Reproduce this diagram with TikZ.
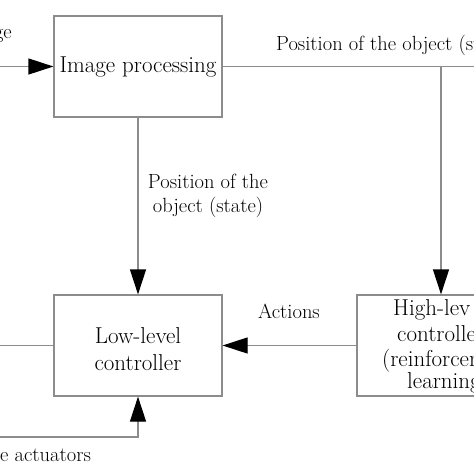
\documentclass[tikz,border=0pt]{standalone}
\usetikzlibrary{arrows.meta}
\definecolor{linegray}{RGB}{140,140,140}
\begin{document}
\begin{tikzpicture}[x=1pt,y=-1pt,
  blk/.style={draw=linegray,line width=1.2pt,minimum width=168pt,minimum height=101pt,inner sep=0pt,align=center,font=\fontsize{23}{27}\selectfont},
  lbl/.style={inner sep=0pt,font=\fontsize{20.5}{24}\selectfont},
  btxt/.style={inner sep=0pt,font=\fontsize{23}{27}\selectfont},
  conn/.style={draw=linegray,line width=1.2pt},
  arr/.style={conn,-{Triangle[length=25pt,width=16pt,color=black]}}]
\useasboundingbox (0,0) rectangle (474,474);
\clip (0,0) rectangle (474,474);
\fill[white] (0,0) rectangle (474,474);
% blocks
\node[blk] (ip) at (138,66.5) {Image processing};
\node[blk] (ll) at (138,345.5) {};
\node[btxt,align=center] (lltxt) at (138,349) {Low-level\\controller};
\node[blk] (hl) at (441,345.5) {};
% high-level text fragments
\node[btxt,anchor=base west] (h1) at (393,315) {High-lev};
\node[btxt,anchor=base west] (h2) at (397,341) {controlle};
\node[btxt,anchor=base west] (h3) at (382,366) {(reinforcem};
\node[btxt,anchor=base west] (h4) at (407,388) {learning)};
% coordinates
\coordinate (inL) at (-5,66.5);
\coordinate (outR) at (480,66.5);
\coordinate (split) at (441,66.5);
\coordinate (leftL) at (-5,345.5);
\coordinate (botL) at (-5,437);
\coordinate (botC) at (138,437);
% connectors
\draw[arr] (inL) -- (ip.west);
\draw[conn] (ip.east) -- (outR);
\draw[arr] (split) -- (hl.north);
\draw[arr] (ip.south) -- (ll.north);
\draw[arr] (hl.west) -- (ll.east);
\draw[conn] (ll.west) -- (leftL);
\draw[arr] (botL) -- (botC) -- (ll.south);
% labels
\node[lbl,anchor=base east] (limg) at (12,38) {ge};
\node[lbl,anchor=base west] (lpos) at (276,50) {Position of the object (st};
\node[lbl,align=center] (lpos2) at (208,196) {Position of the\\object (state)};
\node[lbl,anchor=base west] (lact) at (258,318) {Actions};
\node[lbl,anchor=base west] (lactu) at (0,461) {e actuators};
\end{tikzpicture}
\end{document}
